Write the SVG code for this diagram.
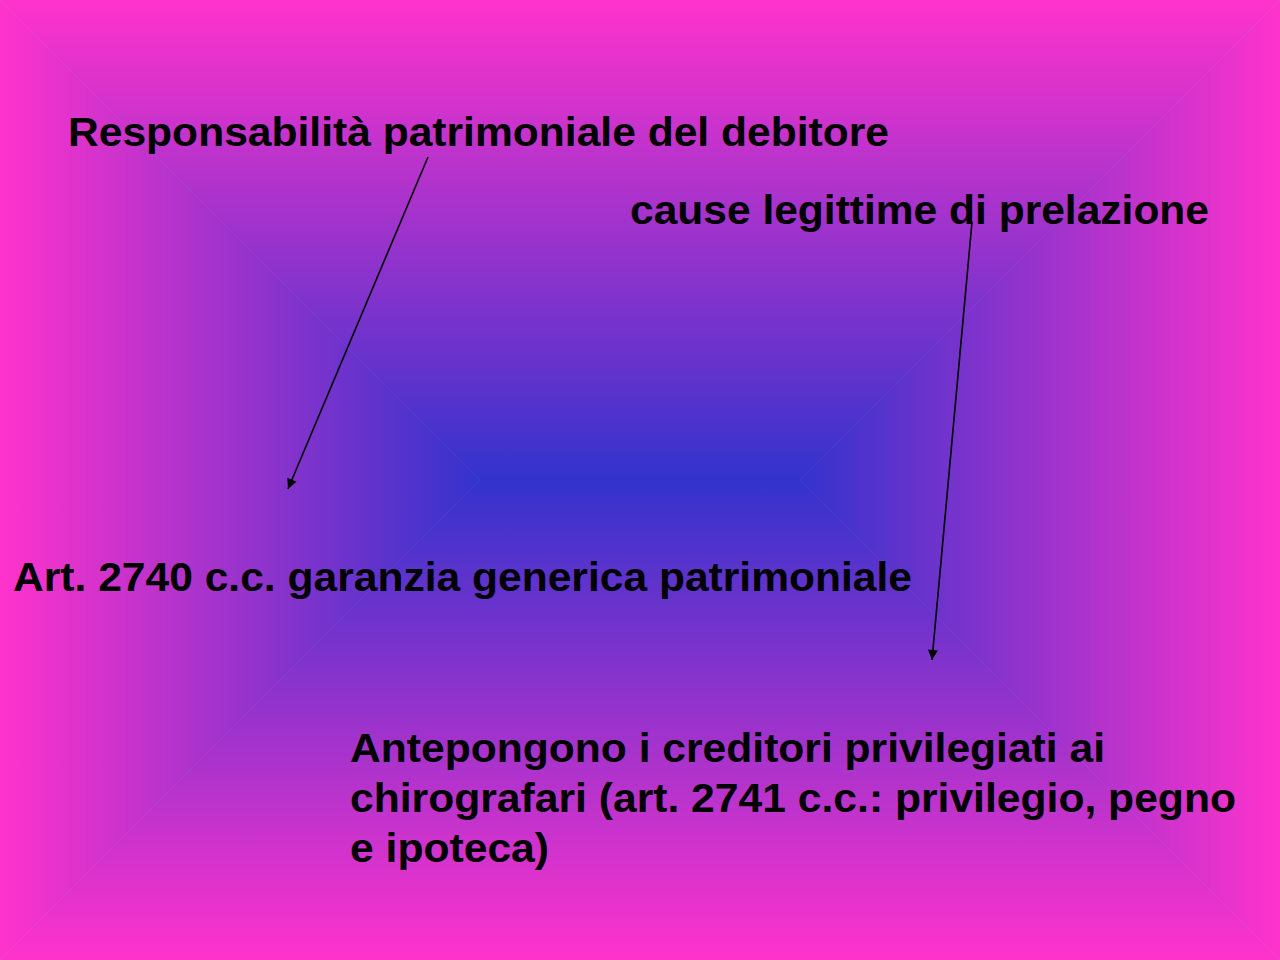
<svg xmlns="http://www.w3.org/2000/svg" width="1280" height="960" viewBox="0 0 1280 960">
<style>
.t{font-family:"Liberation Sans",Arial,sans-serif;font-weight:bold;font-size:41px;fill:#000}
.c{stroke:#000;stroke-width:1.6;fill:none}
</style>
<defs>
<linearGradient id="gt" x1="0" y1="0" x2="0" y2="480" gradientUnits="userSpaceOnUse"><stop offset="0" stop-color="#FF33CC"/><stop offset="1" stop-color="#3333CC"/></linearGradient>
<linearGradient id="gb" x1="0" y1="960" x2="0" y2="480" gradientUnits="userSpaceOnUse"><stop offset="0" stop-color="#FF33CC"/><stop offset="1" stop-color="#3333CC"/></linearGradient>
<linearGradient id="gl" x1="0" y1="0" x2="480" y2="0" gradientUnits="userSpaceOnUse"><stop offset="0" stop-color="#FF33CC"/><stop offset="1" stop-color="#3333CC"/></linearGradient>
<linearGradient id="gr" x1="1280" y1="0" x2="800" y2="0" gradientUnits="userSpaceOnUse"><stop offset="0" stop-color="#FF33CC"/><stop offset="1" stop-color="#3333CC"/></linearGradient>
<marker id="ah" viewBox="0 0 10 10" refX="10" refY="5" markerWidth="11" markerHeight="10" markerUnits="userSpaceOnUse" orient="auto"><path d="M0,0 L10,5 L0,10 Z" fill="#000"/></marker>
</defs>
<g id="background">
<polygon points="0,0 1280,0 800,480 480,480" fill="url(#gt)" stroke="url(#gt)" stroke-width="0.6"/>
<polygon points="0,960 1280,960 800,480 480,480" fill="url(#gb)" stroke="url(#gb)" stroke-width="0.6"/>
<polygon points="0,0 480,480 0,960" fill="url(#gl)" stroke="url(#gl)" stroke-width="0.6"/>
<polygon points="1280,0 800,480 1280,960" fill="url(#gr)" stroke="url(#gr)" stroke-width="0.6"/>
</g>
<g id="connectors">
<line class="c" x1="428" y1="157" x2="288" y2="489" marker-end="url(#ah)"/>
<line class="c" x1="972" y1="222" x2="932" y2="660" marker-end="url(#ah)"/>
</g>
<g id="node-responsabilita"><text class="t" x="68" y="146" textLength="821" lengthAdjust="spacingAndGlyphs">Responsabilità patrimoniale del debitore</text></g>
<g id="node-cause"><text class="t" x="630" y="224" textLength="579" lengthAdjust="spacingAndGlyphs">cause legittime di prelazione</text></g>
<g id="node-art2740"><text class="t" x="13" y="591" textLength="899" lengthAdjust="spacingAndGlyphs">Art. 2740 c.c. garanzia generica patrimoniale</text></g>
<g id="node-antepongono"><text class="t" x="350" y="762" textLength="755" lengthAdjust="spacingAndGlyphs">Antepongono i creditori privilegiati ai</text><text class="t" x="350" y="812" textLength="886" lengthAdjust="spacingAndGlyphs">chirografari (art. 2741 c.c.: privilegio, pegno</text><text class="t" x="350" y="862" textLength="199" lengthAdjust="spacingAndGlyphs">e ipoteca)</text></g>
</svg>
